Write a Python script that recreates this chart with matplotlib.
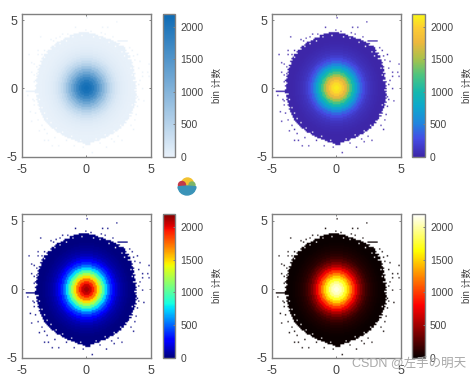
import numpy as np
import matplotlib
matplotlib.use('Agg')
import matplotlib.pyplot as plt
from matplotlib.colors import LinearSegmentedColormap
from matplotlib.patches import Wedge, Circle

plt.rcParams['font.family'] = ['Liberation Sans', 'Noto Sans CJK SC', 'DejaVu Sans']
plt.rcParams['axes.unicode_minus'] = False

ring_counts = [2130, 2060, 1930, 1720, 1480, 1230, 980, 740, 530, 370,
               250, 170, 110, 72, 46, 28, 16, 8, 4, 2, 1, 1, 1, 1, 1, 1]

# solid part of the cloud, one entry per cell row going down from y = 4.05
row_top = 4.05
row_left = [-0.6, -1.0, -1.2, -1.3, -1.7, -1.8, -2.0, -2.3, -2.4, -2.5, -2.7, -2.8, -2.8, -3.0,
            -3.1, -3.1, -3.3, -3.3, -3.4, -3.5, -3.4, -3.6, -3.5, -3.6, -3.7, -3.6, -3.7, -3.8,
            -3.7, -3.8, -3.9, -3.8, -3.9, -3.8, -3.9, -4.0, -3.9, -3.8, -3.9, -4.0, -3.9, -3.9,
            -4.0, -3.9, -4.0, -3.8, -3.9, -3.9, -3.8, -3.9, -3.8, -3.8, -3.7, -3.8, -3.7, -3.6,
            -3.7, -3.6, -3.6, -3.5, -3.5, -3.4, -3.4, -3.3, -3.3, -3.2, -3.1, -3.0, -2.9, -2.8,
            -2.7, -2.5, -2.4, -2.3, -2.0, -1.9, -1.7, -1.5, -1.2, -0.9, -0.7, -0.3, -0.1]
row_right = [0.2, 0.7, 0.9, 1.3, 1.5, 1.9, 2.1, 2.3, 2.6, 2.5, 2.9, 3.0, 3.0, 3.1,
             3.0, 3.3, 3.2, 3.4, 3.4, 3.3, 3.5, 3.5, 3.6, 3.5, 3.6, 3.7, 3.6, 3.7,
             3.7, 3.6, 3.8, 3.7, 3.7, 3.8, 3.8, 3.7, 3.9, 3.8, 3.8, 3.9, 3.8, 3.9,
             3.8, 3.9, 3.8, 3.9, 3.9, 3.8, 3.9, 3.8, 3.8, 3.9, 3.7, 3.8, 3.7, 3.7,
             3.6, 3.6, 3.5, 3.6, 3.4, 3.5, 3.3, 3.3, 3.2, 3.1, 3.1, 2.9, 2.9, 2.7,
             2.7, 2.5, 2.4, 2.2, 2.1, 1.8, 1.7, 1.5, 1.1, 1.0, 0.6, 0.3, 0.2]

# lone cells outside the solid part
stray_x = [0.0, 2.3, -0.9, -0.1, 0.3, 1.25, 1.6, -3.6, -1.9, -2.8, -2.6, 3.1, 2.4, 2.5, 2.6, 2.7, 2.8, 2.9, 3.0,
           -4.5, -3.75, -3.8, 3.9, 3.75, 4.1, 4.8, -4.3, -4.05, -4.3, -4.05, 4.3, 4.7, 4.35, 4.8, 4.15,
           -4.55, -4.7, -4.6, -4.5, -4.4, -4.3, -4.2, -4.1, -4.0, 4.35, 4.4, -4.35, -4.25, -3.8, 3.8, 3.65,
           -3.25, -3.0, -2.7, -2.15, 2.7, 2.1, -0.25, 0.4, 1.55, -1.0, -3.65,
           -2.4, -2.1, -1.5, -1.3, 1.1, 1.4, 2.0, 3.3, 3.5, 3.6, -3.3, -3.5, -3.9, -4.1, -4.2, 4.0, 4.05, 3.95,
           -4.1, -4.05, -3.95, 3.95, 4.0, 3.7, 3.4, -3.5, -3.3, -3.1, -2.5, 2.4, 1.9, 1.0, -1.6, 0.2]
stray_y = [5.15, 4.8, 4.4, 4.2, 4.15, 4.45, 4.45, 3.7, 3.9, 3.5, 3.4, 3.4, 3.4, 3.4, 3.4, 3.4, 3.4, 3.4, 3.4,
           2.45, 2.7, 2.4, 2.45, 2.0, 1.9, 1.7, 1.8, 1.7, 1.15, 0.9, 1.1, 1.1, 0.8, 0.8, 0.5,
           -0.6, -0.3, -0.3, -0.3, -0.3, -0.3, -0.3, -0.3, -0.3, -0.1, -1.0, -1.75, -2.5, -2.35, -2.0, -3.1,
           -3.9, -3.9, -4.25, -4.3, -3.85, -3.95, -4.4, -4.8, -4.35, -4.25, -3.2,
           3.6, 3.7, 3.95, 3.85, 4.0, 3.9, 3.75, 2.9, 2.7, 2.3, 2.7, 2.4, 1.5, 0.4, -0.9, 1.4, 0.2, -0.7,
           -1.3, -1.0, -1.9, -1.4, -0.9, -2.4, -2.8, -2.8, -3.1, -3.4, -3.7, -3.6, -3.8, -4.05, -3.9, -4.15]

# empty cells inside the rim
hole_x = [-3.75, -3.55, -3.45, -3.25, -3.05, -2.75, -2.45, -2.05, -1.55, -1.05, -0.35, 0.55, 1.05, 1.75,
          2.25, 2.75, 2.95, 3.25, 3.45, 3.55, 3.65, 3.75, 3.55, 3.35, 3.05, 2.65, 2.15, 1.45, 0.75, -0.45,
          -1.15, -1.85, -2.35, -2.75, -3.05, -3.25, -3.45, -3.65, -3.75, -3.85]
hole_y = [1.05, 1.75, 2.05, 2.25, 2.55, 2.85, 3.05, 3.25, 3.45, 3.75, 3.85, 3.75, 3.65, 3.35,
          3.05, 2.65, 2.35, 2.15, 1.45, 0.95, 0.55, -0.15, -1.25, -1.95, -2.45, -2.75, -3.15, -3.45, -3.75, -3.85,
          -3.55, -3.25, -2.95, -2.55, -2.25, -1.85, -1.45, -0.85, -0.45, 0.35]

x_ticks = [-5, 0, 5]
y_ticks = [-5, 0, 5]
cbar_ticks = [0, 500, 1000, 1500, 2000]
cbar_label = 'bin 计数'

blues = LinearSegmentedColormap.from_list('blues', ['#e8f1fa', '#0c6ab4'])
parula = LinearSegmentedColormap.from_list('parula', [
    (0.0, (0.24, 0.15, 0.66)), (0.125, (0.27, 0.30, 0.90)), (0.23, (0.13, 0.52, 0.87)),
    (0.35, (0.05, 0.66, 0.80)), (0.45, (0.08, 0.72, 0.68)), (0.57, (0.30, 0.77, 0.50)),
    (0.68, (0.65, 0.76, 0.30)), (0.8, (0.93, 0.72, 0.24)), (0.9, (0.99, 0.80, 0.20)),
    (1.0, (0.98, 0.98, 0.08))])

# 0.1 wide cells, empty ones stay white
edges_x = np.arange(-5, 5.05, 0.1)
edges_y = np.arange(-5, 5.55, 0.1)
xc = (edges_x[:-1] + edges_x[1:]) / 2
yc = (edges_y[:-1] + edges_y[1:]) / 2
counts = np.full((len(yc), len(xc)), np.nan)
for k in range(len(row_left)):
    y = row_top - 0.1 * k
    i = np.searchsorted(edges_y, y) - 1
    for j, x in enumerate(xc):
        if row_left[k] <= x <= row_right[k]:
            ring = int(np.hypot(x, y) / 0.2)
            counts[i, j] = ring_counts[min(ring, len(ring_counts) - 1)]
for x, y in zip(stray_x, stray_y):
    i = np.searchsorted(edges_y, y) - 1
    j = np.searchsorted(edges_x, x) - 1
    counts[i, j] = 1
for x, y in zip(hole_x, hole_y):
    i = np.searchsorted(edges_y, y) - 1
    j = np.searchsorted(edges_x, x) - 1
    counts[i, j] = np.nan

W, H = 474, 376
fig = plt.figure(figsize=(W / 100, H / 100), dpi=100)

# left, right of axes, left, right of colorbar, top, bottom in pixels
panels = [(22, 150.5, 162.5, 175, 13.5, 156.5, blues),
          (272, 400.5, 412, 424.5, 13.5, 156.5, parula),
          (22, 150.5, 162.5, 175, 214, 357.5, plt.get_cmap('jet')),
          (272, 400.5, 412, 424.5, 214, 357.5, plt.get_cmap('hot'))]
grey = '#808080'
text_c = '#444444'

for l, r, cl, cr, t, b, cmap in panels:
    ax = fig.add_axes([l / W, 1 - b / H, (r - l) / W, (b - t) / H])
    cm = cmap.copy()
    cm.set_bad('white')
    im = ax.imshow(counts, extent=[-5, 5, -5, 5.5], origin='lower', cmap=cm, vmin=0, vmax=2200,
                   aspect='auto', interpolation='bilinear', interpolation_stage='rgba')
    ax.set_xticks(x_ticks)
    ax.set_yticks(y_ticks)
    ax.tick_params(direction='in', length=1.5, width=0.7, color=grey, top=True, right=True,
                   labelsize=9, labelcolor=text_c)
    ax.tick_params(axis='x', pad=5.5)
    ax.tick_params(axis='y', pad=3)
    for s in ax.spines.values():
        s.set_color(grey)
        s.set_linewidth(1.0)

    cax = fig.add_axes([cl / W, 1 - b / H, (cr - cl) / W, (b - t) / H])
    cb = fig.colorbar(im, cax=cax)
    cb.set_ticks(cbar_ticks)
    cax.tick_params(direction='in', length=1.5, width=0.7, color=grey, labelsize=7.5,
                    labelcolor=text_c, pad=4)
    cb.outline.set_edgecolor(grey)
    cb.outline.set_linewidth(1.0)
    fig.text((cr + 42) / W, 1 - (t + b) / 2 / H, cbar_label, rotation=90, ha='center', va='center',
             fontsize=7, color=text_c)

# small logo between the panels
logo = fig.add_axes([177 / W, 1 - 197 / H, 20 / W, 20 / H])
logo.set_xlim(-10, 10)
logo.set_ylim(-10, 10)
logo.axis('off')
logo.add_patch(Circle((0.5, 3), 6, color='#f2c230'))
logo.add_patch(Circle((-5, 2), 3.5, color='#c23a48'))
logo.add_patch(Circle((5, 2), 3, color='#7cb56a'))
logo.add_patch(Wedge((0, 1), 9, 185, 355, color='#3a93b8'))

fig.text(352 / W, 1 - 364 / H, 'CSDN @左手の明天', fontsize=9, color='#a8a8a8', ha='left', va='center')

fig.savefig('out.png', dpi=100)
